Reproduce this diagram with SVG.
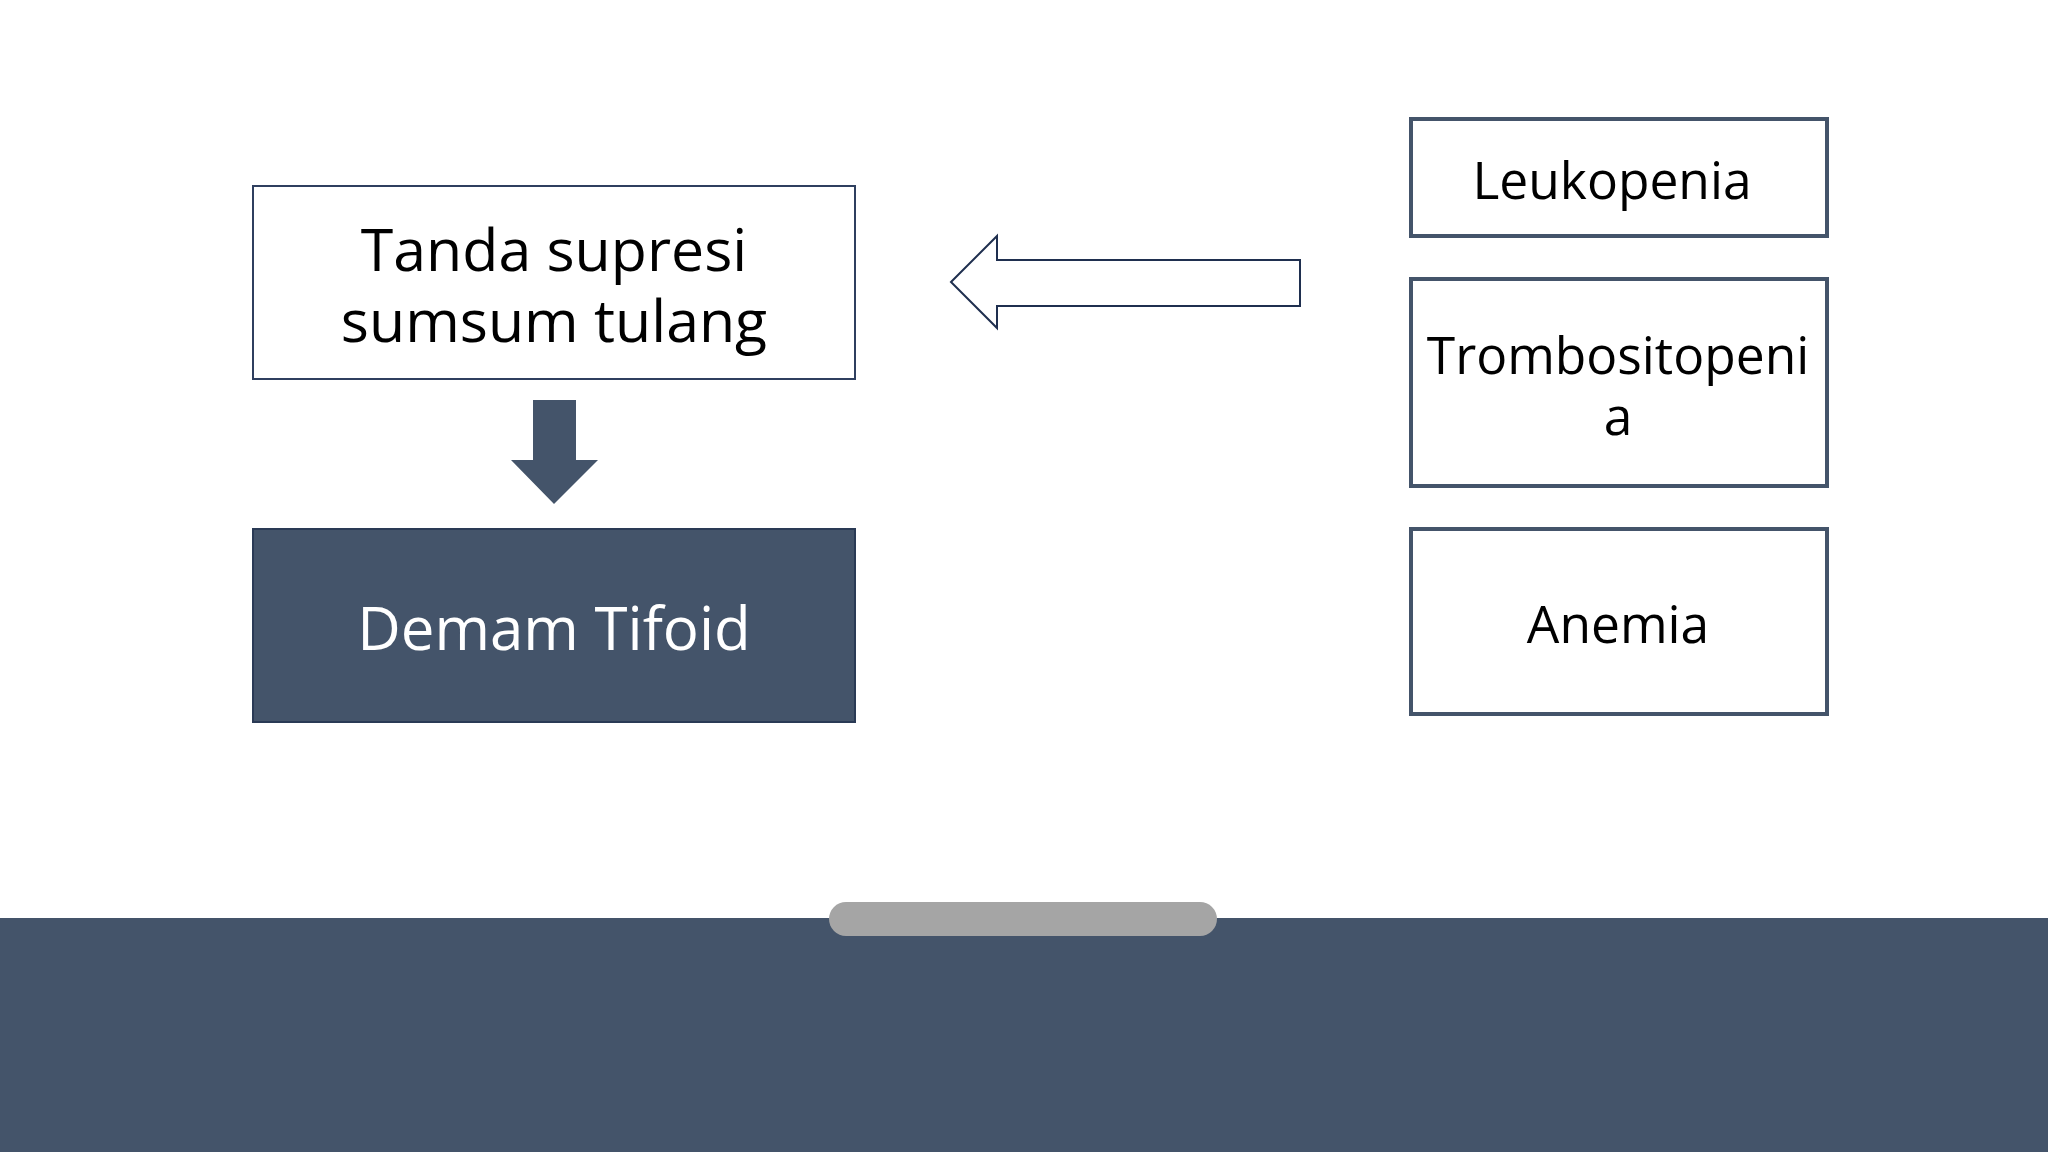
<svg xmlns="http://www.w3.org/2000/svg" width="2048" height="1152" viewBox="0 0 2048 1152">
<style>
.t{font-family:"Open Sans","Noto Sans","Liberation Sans",sans-serif;text-anchor:middle;fill:#000}
.w{fill:#fff}
.rb{fill:#fff;stroke:#44546a;stroke-width:4}
</style>
<rect x="0" y="0" width="2048" height="1152" fill="#fff"/>
<rect x="0" y="918" width="2048" height="234" fill="#44546a"/>
<rect x="829" y="902" width="388" height="34" rx="17" fill="#a5a5a5"/>
<g id="tanda">
<rect x="253" y="186" width="602" height="193" fill="#fff" stroke="#2f3f5f" stroke-width="2"/>
<text class="t" x="554" y="271" font-size="59">Tanda supresi</text>
<text class="t" x="554" y="342" font-size="59">sumsum tulang</text>
</g>
<g id="demam">
<rect x="253" y="529" width="602" height="193" fill="#44546a" stroke="#2a3a55" stroke-width="2"/>
<text class="t w" x="554" y="650" font-size="60">Demam Tifoid</text>
</g>
<g id="leukopenia">
<rect class="rb" x="1411" y="119" width="416" height="117"/>
<text class="t" x="1612" y="199" font-size="51.5">Leukopenia</text>
</g>
<g id="trombositopenia">
<rect class="rb" x="1411" y="279" width="416" height="207"/>
<text class="t" x="1618" y="374" font-size="51.5">Trombositopeni</text>
<text class="t" x="1618" y="435" font-size="51.5">a</text>
</g>
<g id="anemia">
<rect class="rb" x="1411" y="529" width="416" height="185"/>
<text class="t" x="1618" y="643" font-size="51.5">Anemia</text>
</g>
<g id="connectors">
<polygon points="533,400 576,400 576,460 598,460 554,504 511,460 533,460" fill="#44546a"/>
<polygon points="951,282 997,236 997,260 1300,260 1300,306 997,306 997,328" fill="#fff" stroke="#1f2f4f" stroke-width="2"/>
</g>
</svg>
